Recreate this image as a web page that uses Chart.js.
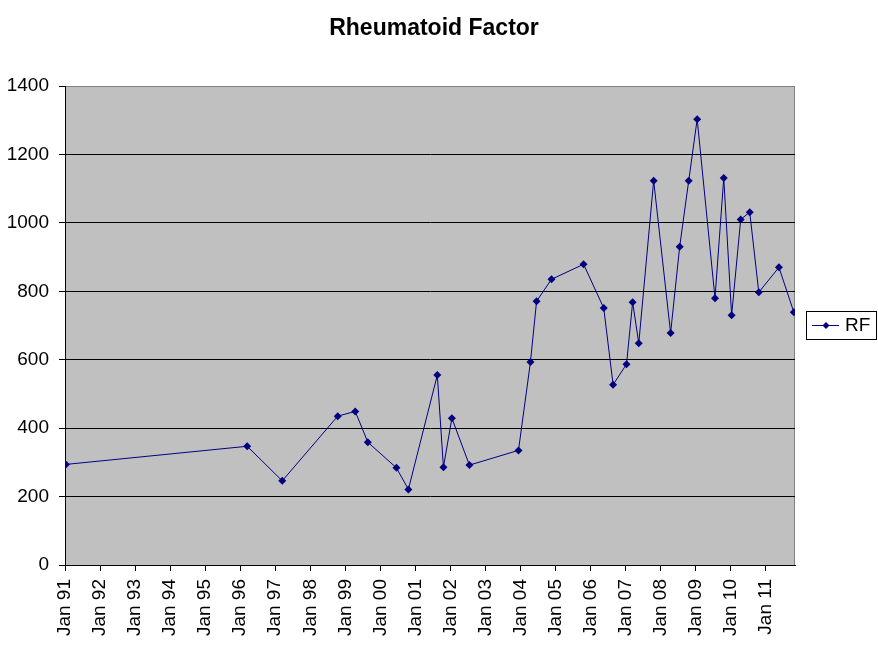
<!DOCTYPE html>
<html lang="en">
<head>
    <meta charset="UTF-8">
    <title>Rheumatoid Factor</title>
    <script src="https://cdn.jsdelivr.net/npm/chart.js"></script>
    <style>
        body {
            margin: 0;
            background-color: white;
        }
        #rfChart {
            display: block;
        }
    </style>
</head>
<body>
    <canvas id="rfChart" width="878" height="650"></canvas>

    <script>
        // Sample dates and RF values
        const sampleDates = [
            '1991-01-10', '1996-03-13', '1997-03-13', '1998-10-13', '1999-04-13',
            '1999-08-22', '2000-06-16', '2000-10-19', '2001-08-16', '2001-10-19',
            '2002-01-16', '2002-07-16', '2003-12-10', '2004-04-13', '2004-06-16',
            '2004-11-19', '2005-10-19', '2006-05-16', '2006-08-22', '2007-01-10',
            '2007-03-13', '2007-05-16', '2007-10-19', '2008-04-13', '2008-07-16',
            '2008-10-19', '2009-01-16', '2009-07-19', '2009-10-19', '2010-01-10',
            '2010-04-13', '2010-07-16', '2010-10-19', '2011-05-16', '2011-10-19'
        ];
        const rfValues = [
            294, 347, 246, 435, 449,
            359, 284, 221, 555, 286,
            429, 292, 335, 593, 771,
            835, 879, 751, 527, 587,
            768, 648, 1123, 678, 930,
            1123, 1303, 780, 1131, 730,
            1010, 1031, 797, 870, 739
        ];
        const seriesLabel = 'RF';
        const chartTitle = 'Rheumatoid Factor';
        const axisStart = '1991-01-01';
        const axisEnd = '2011-11-01';
        const yTicks = [0, 200, 400, 600, 800, 1000, 1200, 1400];

        const navy = '#000080';
        const fontFamily = 'Arial, "Liberation Sans", sans-serif';

        // months since Jan 1991, so every 12 is a January tick
        function toMonths(s) {
            const [y, m, d] = s.split('-').map(Number);
            return (y - 1991) * 12 + (m - 1) + (d - 1) / 30;
        }

        const points = sampleDates.map((d, i) => ({ x: toMonths(d), y: rfValues[i] }));

        const plotBackground = {
            id: 'plotBackground',
            beforeDraw(chart) {
                const { ctx, chartArea: a } = chart;
                ctx.save();
                ctx.fillStyle = '#C0C0C0';
                ctx.fillRect(a.left, a.top, a.right - a.left, a.bottom - a.top);
                ctx.strokeStyle = '#808080';
                ctx.lineWidth = 1;
                ctx.beginPath();
                ctx.moveTo(a.left, a.top + 0.5);
                ctx.lineTo(a.right - 0.5, a.top + 0.5);
                ctx.lineTo(a.right - 0.5, a.bottom);
                ctx.stroke();
                // title sits a little left of the page centre, like the original
                ctx.fillStyle = 'black';
                ctx.font = 'bold 23px ' + fontFamily;
                ctx.textAlign = 'center';
                ctx.textBaseline = 'alphabetic';
                ctx.fillText(chartTitle, 434, 35);
                ctx.restore();
            }
        };

        // Excel style legend box on the right
        const boxLegend = {
            id: 'boxLegend',
            afterDraw(chart) {
                const ctx = chart.ctx;
                const x = 806, y = 311, w = 70, h = 28;
                const cy = y + h / 2;
                ctx.save();
                ctx.fillStyle = 'white';
                ctx.fillRect(x, y, w, h);
                ctx.strokeStyle = 'black';
                ctx.lineWidth = 1;
                ctx.strokeRect(x + 0.5, y + 0.5, w, h);
                ctx.strokeStyle = navy;
                ctx.beginPath();
                ctx.moveTo(x + 6, cy + 0.5);
                ctx.lineTo(x + 33, cy + 0.5);
                ctx.stroke();
                ctx.fillStyle = navy;
                ctx.beginPath();
                const mx = x + 20, r = 3.5;
                ctx.moveTo(mx, cy - r + 0.5);
                ctx.lineTo(mx + r, cy + 0.5);
                ctx.lineTo(mx, cy + r + 0.5);
                ctx.lineTo(mx - r, cy + 0.5);
                ctx.closePath();
                ctx.fill();
                ctx.fillStyle = 'black';
                ctx.font = '19px ' + fontFamily;
                ctx.textBaseline = 'middle';
                ctx.fillText(chart.data.datasets[0].label, x + 39, cy + 1);
                ctx.restore();
            }
        };

        const ctx = document.getElementById('rfChart').getContext('2d');
        new Chart(ctx, {
            type: 'line',
            data: {
                datasets: [{
                    label: seriesLabel,
                    data: points,
                    borderColor: navy,
                    borderWidth: 1,
                    backgroundColor: navy,
                    pointStyle: 'rectRot',
                    pointRadius: 4,
                    pointHoverRadius: 4,
                    pointBorderWidth: 0,
                    tension: 0
                }]
            },
            options: {
                responsive: false,
                animation: false,
                layout: {
                    padding: { left: 0, right: 83, top: 86, bottom: 0 }
                },
                plugins: {
                    legend: { display: false },
                    tooltip: { enabled: false },
                    title: { display: false }
                },
                scales: {
                    x: {
                        type: 'linear',
                        min: toMonths(axisStart),
                        max: toMonths(axisEnd),
                        afterFit(scale) { scale.height = 85; },
                        grid: {
                            drawOnChartArea: false,
                            drawTicks: true,
                            tickLength: 6,
                            color: 'black'
                        },
                        border: { color: 'black', width: 1 },
                        ticks: {
                            stepSize: 12,
                            includeBounds: false,
                            autoSkip: false,
                            maxRotation: 90,
                            minRotation: 90,
                            padding: 8,
                            color: 'black',
                            font: { family: fontFamily, size: 19 },
                            callback: (v) => {
                                if (v % 12 !== 0) return '';
                                const yy = (1991 + v / 12) % 100;
                                return 'Jan ' + String(yy).padStart(2, '0');
                            }
                        }
                    },
                    y: {
                        min: yTicks[0],
                        max: yTicks[yTicks.length - 1],
                        afterFit(scale) { scale.width = 65; },
                        afterBuildTicks(scale) {
                            scale.ticks = yTicks.map(v => ({ value: v }));
                        },
                        grid: {
                            color: (c) => c.tick && c.tick.value === 1400 ? '#808080' : 'black',
                            tickColor: 'black',
                            tickLength: 6
                        },
                        border: { color: 'black', width: 1 },
                        ticks: {
                            padding: 10,
                            color: 'black',
                            font: { family: fontFamily, size: 19 },
                            callback: (v) => String(v)
                        }
                    }
                }
            },
            plugins: [plotBackground, boxLegend]
        });
    </script>
</body>
</html>
